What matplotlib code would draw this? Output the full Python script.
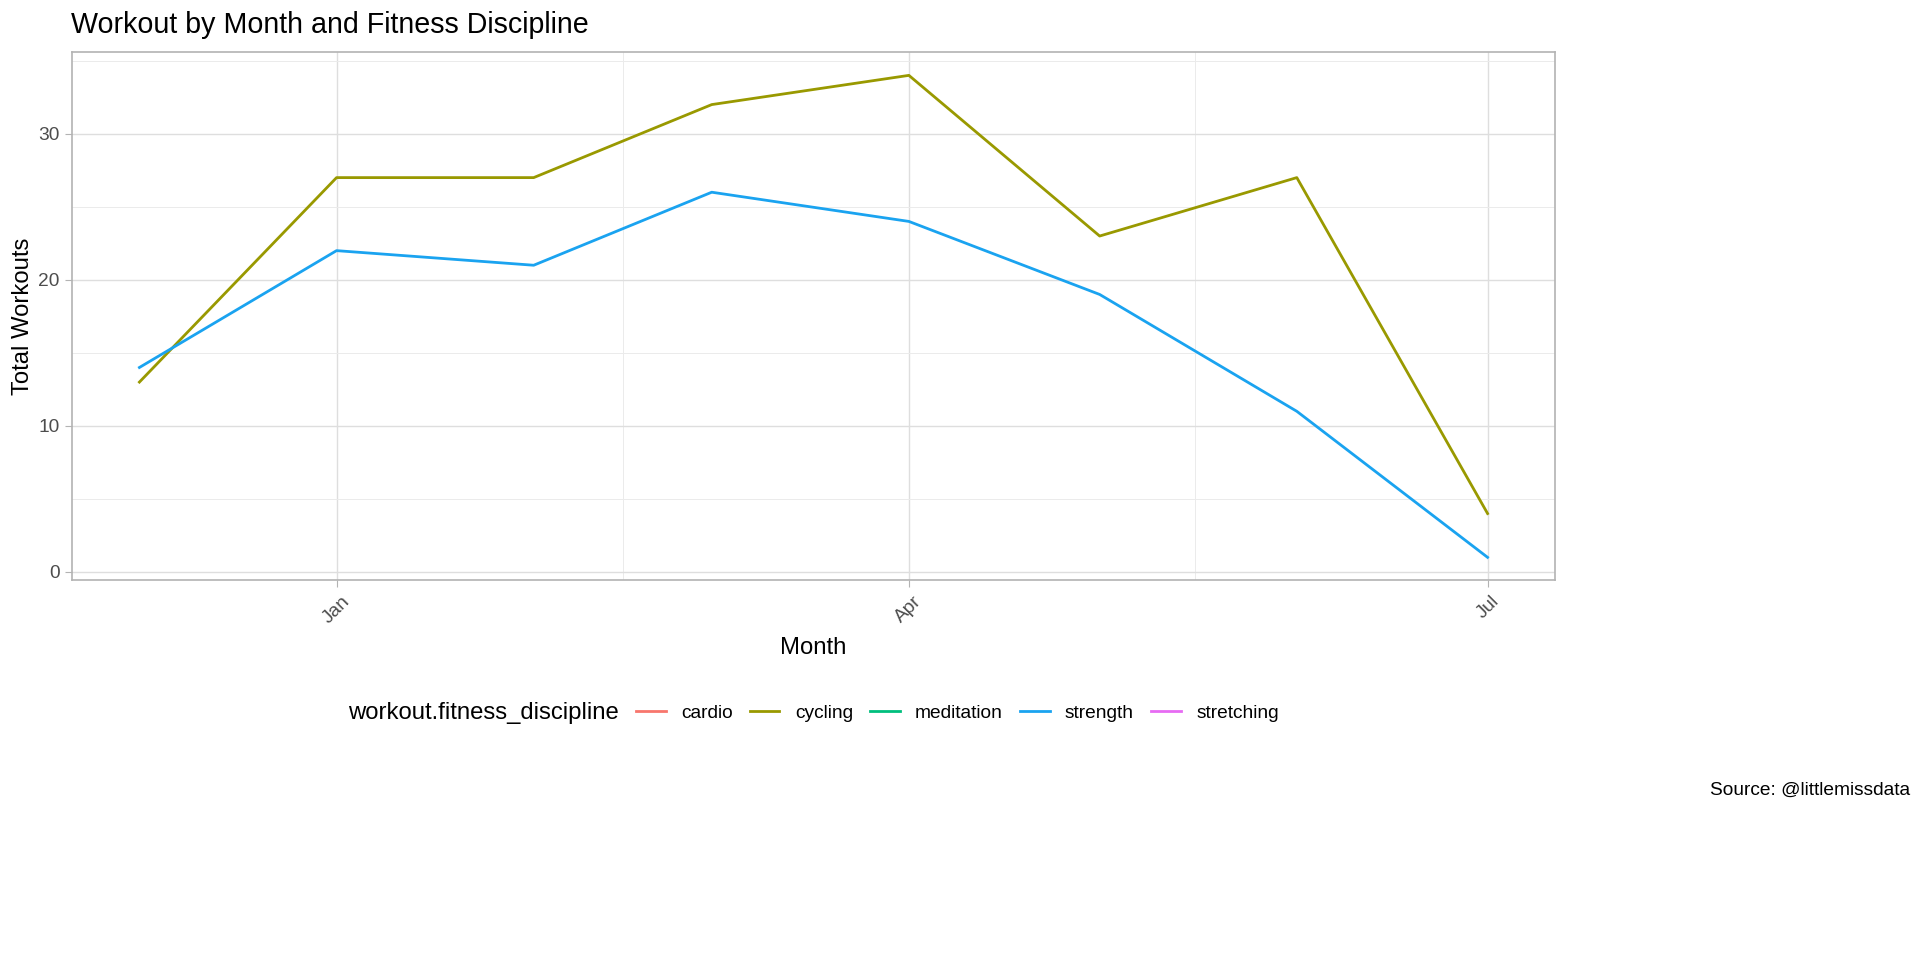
import matplotlib
matplotlib.use("Agg")
import matplotlib.pyplot as plt
import matplotlib.dates as mdates
import numpy as np
import pandas as pd

plt.rcParams['font.family'] = ['Liberation Sans', 'DejaVu Sans']

# data
months = pd.to_datetime(['2018-12-01', '2019-01-01', '2019-02-01', '2019-03-01',
                         '2019-04-01', '2019-05-01', '2019-06-01', '2019-07-01'])
cycling = [13, 27, 27, 32, 34, 23, 27, 4]
strength = [14, 22, 21, 26, 24, 19, 11, 1]
cardio = []
meditation = []
stretching = []

disciplines = ['cardio', 'cycling', 'meditation', 'strength', 'stretching']
series = {'cardio': cardio, 'cycling': cycling, 'meditation': meditation,
          'strength': strength, 'stretching': stretching}
colors = {'cardio': '#F8766D', 'cycling': '#999900', 'meditation': '#00BF7D',
          'strength': '#1AA3F0', 'stretching': '#E76BF3'}

fig = plt.figure(figsize=(9.6, 4.8), dpi=200)
ax = fig.add_axes([72/1920, 1-580/960, (1555-72)/1920, (580-52)/960])

handles = []
for d in disciplines:
    vals = series[d]
    xs = months[:len(vals)] if vals else []
    h, = ax.plot(xs, vals, color=colors[d], lw=1.0, label=d, zorder=3)
    handles.append(h)

# x limits with ggplot-style 5% expansion
x0, x1 = mdates.date2num(months[0]), mdates.date2num(months[-1])
pad = (x1 - x0) * 0.05
ax.set_xlim(x0 - pad, x1 + pad)
ax.set_ylim(-0.55, 35.6)

major_x = pd.to_datetime(['2019-01-01', '2019-04-01', '2019-07-01'])
minor_x = pd.to_datetime(['2019-02-15', '2019-05-16'])
ax.set_xticks(major_x)
ax.set_xticklabels(['Jan', 'Apr', 'Jul'], rotation=45, ha='center', va='top',
                   rotation_mode='default')
ax.set_xticks(minor_x, minor=True)
ax.set_yticks([0, 10, 20, 30])
ax.set_yticks([5, 15, 25, 35], minor=True)

ax.grid(which='major', color='#DEDEDE', lw=0.5, zorder=0)
ax.grid(which='minor', color='#EBEBEB', lw=0.35, zorder=0)
ax.set_axisbelow(True)
for s in ax.spines.values():
    s.set_color('#B3B3B3')
    s.set_linewidth(0.6)
ax.tick_params(which='major', color='#B3B3B3', length=2.5, width=0.4,
               labelcolor='#4D4D4D', labelsize=6.9, pad=2)
ax.tick_params(which='minor', length=0)

ax.set_xlabel('Month', fontsize=8.6, labelpad=4)
ax.set_ylabel('Total Workouts', fontsize=8.6, labelpad=1.5)
ax.set_title('Workout by Month and Fitness Discipline', fontsize=10.3,
             loc='left', x=-0.001, pad=7)

# legend at bottom with title on the left
fig.text(348/1920, 1-713/960, 'workout.fitness_discipline', fontsize=8.6,
         ha='left', va='center')
fig.legend(handles=handles, labels=disciplines, loc='center left',
           bbox_to_anchor=(628/1920, 1-713/960), ncol=5, frameon=False,
           fontsize=6.9, handlelength=1.56, handletextpad=0.8,
           columnspacing=0.88, borderaxespad=0)

fig.text(1910/1920, 1-790/960, 'Source: @littlemissdata', fontsize=6.9,
         ha='right', va='center')

fig.savefig('out.png', dpi=200)
